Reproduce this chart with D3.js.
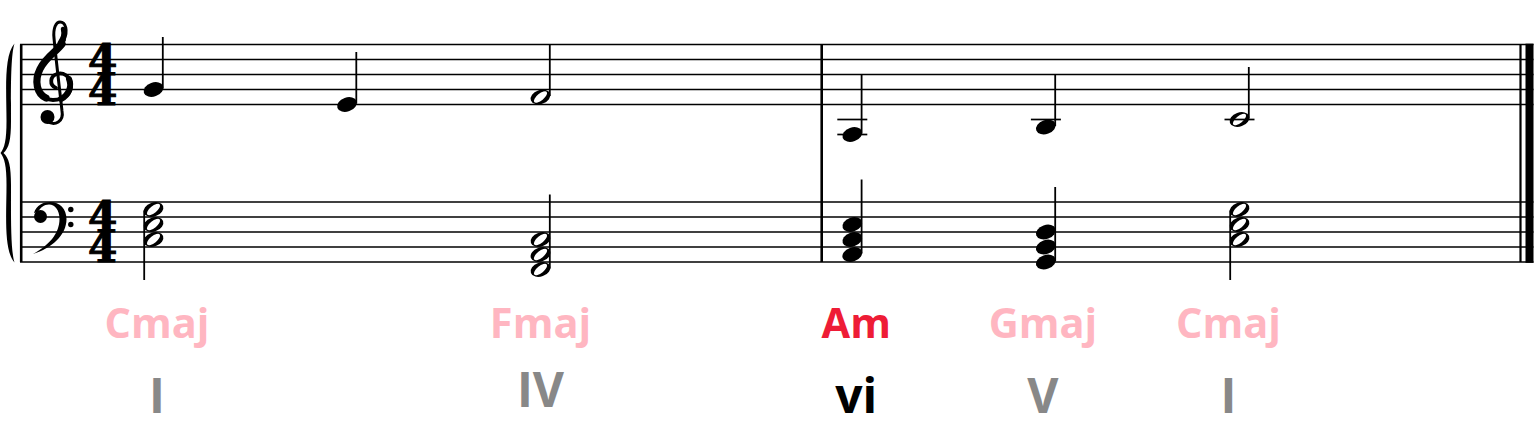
<!DOCTYPE html>
<html><head><meta charset="utf-8">
<script src="https://cdn.jsdelivr.net/npm/d3@7"></script>
<style>html,body{margin:0;padding:0;background:#fff;} svg{display:block}</style>
</head><body>
<svg id="chart" width="1536" height="446"></svg>
<script>
// ---------------- data ----------------
const chordNames      = ["Cmaj", "Fmaj", "Am", "Gmaj", "Cmaj"];
const romanNumerals   = ["I", "IV", "vi", "V", "I"];
const chordBeats      = [0, 2, 4, 5, 6];            // measure 2 starts at beat 4
const highlighted     = [false, false, true, false, false];
const bassChords      = [["C3","E3","G3"], ["F2","A2","C3"], ["A2","C3","E3"], ["G2","B2","D3"], ["C3","E3","G3"]];
const bassDurations   = ["h", "h", "q", "q", "h"];
const melodyPitches   = ["G4", "E4", "F4", "A3", "B3", "C4"];
const melodyBeats     = [0, 1, 2, 4, 5, 6];
const melodyDurations = ["q", "q", "h", "q", "q", "h"];
const timeSignature   = ["4", "4"];

// ---------------- layout ----------------
const SP = 15;
const svg = d3.select("#chart");
const staffLeft = 20, staffRight = 1533.5;
const letters = "CDEFGAB";
const stepOf = p => (+p.slice(1)) * 7 + letters.indexOf(p[0]);

const x = d3.scaleLinear().domain([0, 2, 4, 6]).range([153.5, 540.5, 852.3, 1239.5]);
const yTreble = d3.scaleLinear().domain([stepOf("E4"), stepOf("F5")]).range([104.5, 44.5]);
const yBass   = d3.scaleLinear().domain([stepOf("G2"), stepOf("A3")]).range([262, 202]);
const staves = [
  {y: yTreble, lines: ["E4","G4","B4","D5","F5"], mid: stepOf("B4")},
  {y: yBass,   lines: ["G2","B2","D3","F3","A3"], mid: stepOf("D3")}
];
const topY = yTreble(stepOf("F5")), botY = yBass(stepOf("G2"));

// staff lines
staves.forEach(st => {
  svg.append("g").selectAll("line").data(st.lines).join("line")
    .attr("x1", staffLeft).attr("x2", staffRight)
    .attr("y1", d => st.y(stepOf(d))).attr("y2", d => st.y(stepOf(d)))
    .attr("stroke", "#000").attr("stroke-width", 1.7);
});

// barlines
const bars = svg.append("g");
bars.append("line").attr("x1", 21.2).attr("x2", 21.2).attr("y1", topY).attr("y2", botY).attr("stroke", "#000").attr("stroke-width", 2.6);
bars.append("line").attr("x1", 821.7).attr("x2", 821.7).attr("y1", topY).attr("y2", botY).attr("stroke", "#000").attr("stroke-width", 2.6);
bars.append("line").attr("x1", 1520.5).attr("x2", 1520.5).attr("y1", topY).attr("y2", botY).attr("stroke", "#000").attr("stroke-width", 2.2);
bars.append("rect").attr("x", 1525.5).attr("y", topY - 0.8).attr("width", 8).attr("height", botY - topY + 1.6).attr("fill", "#000");

// brace
svg.append("path")
  .attr("d", "M14.5,43.5 C3.5,56 6.5,92 6.5,121 C6.5,140 4.5,148 0.5,153 C4.5,158 6.5,166 6.5,185 C6.5,214 3.5,250 14.5,262.5 C10.5,250 11,214 11,185 C11,166 9,158 3.5,153 C9,148 11,140 11,121 C11,92 10.5,56 14.5,43.5 Z")
  .attr("fill", "#000");

// treble clef
const tc = svg.append("g").attr("fill", "none").attr("stroke", "#000").attr("stroke-linecap", "round");
tc.append("path").attr("stroke-width", 3)
  .attr("d", "M47,121 C55,127 64,121 62,111 C60,92 56,60 54,38 C53,28 56,22 60,22 C66,22 68,31 64,40");
tc.append("path").attr("stroke-width", 3.8)
  .attr("d", "M64,40 C60,50 46,57 39,70 C32,84 38,100 53,100 C65,100 72,93 71,84 C70,76 63,72 57,74 C50,76 49,85 56,88");
tc.append("path").attr("stroke-width", 7.2)
  .attr("d", "M62,44 C56,52 46,57 40,69 C34,81 37,94 46,98");
tc.append("path").attr("stroke-width", 6)
  .attr("d", "M69,79 C72,86 69,95 61,99");
tc.append("path").attr("stroke-width", 4.5)
  .attr("d", "M63,29 C64.5,35 63,38 59.5,43.5");
svg.append("circle").attr("cx", 47.5).attr("cy", 117).attr("r", 7).attr("fill", "#000");

// bass clef
svg.append("path").attr("fill", "#000")
  .attr("d", "M34,213 C36,205 44,202 50,202 C60,202 66.5,209 66.5,219 C66.5,235 52,248 33,254 C48,246 59.5,234 59.5,219 C59.5,210 55,204.5 49,204.5 C44,204.5 40,208 38,212 Z");
svg.append("circle").attr("cx", 40.5).attr("cy", 216.5).attr("r", 6.5).attr("fill", "#000");
svg.append("g").selectAll("circle").data(["G3", "E3"]).join("circle")
  .attr("cx", 70.8).attr("cy", d => yBass(stepOf(d))).attr("r", 2.7).attr("fill", "#000");

// time signatures (one text element per staff, two stacked tspans)
staves.forEach(st => {
  svg.append("text")
    .attr("text-anchor", "middle")
    .attr("font-family", "DejaVu Serif").attr("font-weight", "bold").attr("font-size", 42)
    .attr("stroke", "#000").attr("stroke-width", 1.1)
    .selectAll("tspan").data(timeSignature).join("tspan")
    .attr("x", 102.5)
    .attr("y", (d, i) => i === 0 ? st.y(st.mid) : st.y(st.mid - 4))
    .text(d => d);
});

// noteheads
const outerPath = "M-10.2,0 A10.2,7 0 1,0 10.2,0 A10.2,7 0 1,0 -10.2,0 Z";
const innerPath = "M-7.6,2.6 A8,3.4 -19 1,0 7.6,-2.6 A8,3.4 -19 1,0 -7.6,2.6 Z";
function head(g, cx, cy, dur) {
  g.append("path")
    .attr("transform", `translate(${cx},${cy}) rotate(-20)`)
    .attr("d", dur === "q" ? outerPath : outerPath + " " + innerPath)
    .attr("fill-rule", "evenodd").attr("fill", "#000");
}
function ledgers(g, cx, steps, st) {
  const low = d3.min(steps), high = d3.max(steps);
  const bottomLine = stepOf(st.lines[0]), topLine = stepOf(st.lines[4]);
  const ls = [];
  for (let s = bottomLine - 2; s >= low; s -= 2) ls.push(s);
  for (let s = topLine + 2; s <= high; s += 2) ls.push(s);
  g.selectAll("line.ledger").data(ls).join("line").attr("class", "ledger")
    .attr("x1", cx - 15).attr("x2", cx + 15)
    .attr("y1", s => st.y(s)).attr("y2", s => st.y(s))
    .attr("stroke", "#000").attr("stroke-width", 1.7);
}

// melody (treble)
const mel = svg.append("g");
melodyPitches.forEach((p, i) => {
  const g = mel.append("g");
  const st = staves[0], s = stepOf(p), cx = x(melodyBeats[i]), cy = st.y(s);
  ledgers(g, cx, [s], st);
  const tip = Math.min(cy - 3.5 * SP, st.y(st.mid));
  g.append("line").attr("x1", cx + 9.3).attr("x2", cx + 9.3).attr("y1", cy - 1).attr("y2", tip)
    .attr("stroke", "#000").attr("stroke-width", 1.8);
  head(g, cx, cy, melodyDurations[i]);
});

// bass chords
const bass = svg.append("g");
bassChords.forEach((ch, i) => {
  const g = bass.append("g");
  const st = staves[1], steps = ch.map(stepOf), cx = x(chordBeats[i]);
  const ys = steps.map(s => st.y(s));
  ledgers(g, cx, steps, st);
  const up = d3.mean(steps) < st.mid;
  if (up) {
    g.append("line").attr("x1", cx + 9.3).attr("x2", cx + 9.3)
      .attr("y1", d3.max(ys) - 1).attr("y2", d3.min(ys) - 3 * SP)
      .attr("stroke", "#000").attr("stroke-width", 1.8);
  } else {
    g.append("line").attr("x1", cx - 9.3).attr("x2", cx - 9.3)
      .attr("y1", d3.min(ys) + 1).attr("y2", d3.max(ys) + 2.7 * SP)
      .attr("stroke", "#000").attr("stroke-width", 1.8);
  }
  ys.forEach(cy => head(g, cx, cy, bassDurations[i]));
});

// labels
const labelDx = [3.5, 0, 4, -3, -11];
const romanDy = [0, -6, 0, 0, 0];
svg.append("g").selectAll("text").data(chordNames).join("text")
  .attr("x", (d, i) => x(chordBeats[i]) + labelDx[i]).attr("y", 338)
  .attr("text-anchor", "middle")
  .attr("font-family", "Open Sans").attr("font-weight", 700).attr("font-size", 41.5)
  .attr("fill", (d, i) => highlighted[i] ? "#EE1C36" : "#FFB6C1")
  .text(d => d);
svg.append("g").selectAll("text").data(romanNumerals).join("text")
  .attr("x", (d, i) => x(chordBeats[i]) + labelDx[i]).attr("y", (d, i) => 413 + romanDy[i])
  .attr("text-anchor", "middle")
  .attr("font-family", "Open Sans").attr("font-weight", 700).attr("font-size", 48)
  .attr("fill", (d, i) => highlighted[i] ? "#000" : "#888888")
  .text(d => d);
</script>
</body></html>
